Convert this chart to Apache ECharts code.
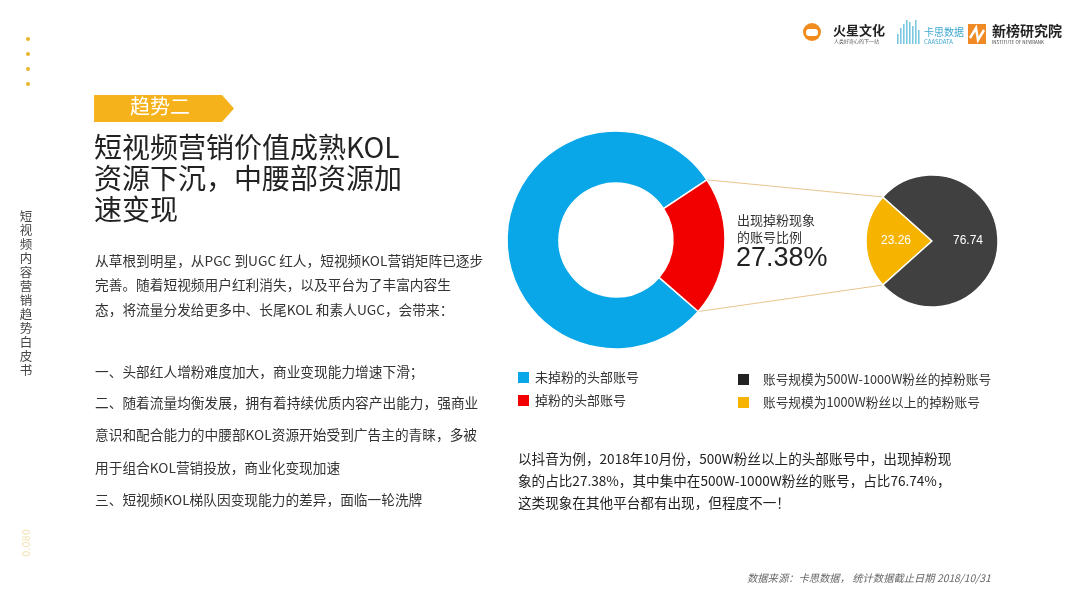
<!DOCTYPE html>
<html>
<head>
<meta charset="utf-8">
<script src="https://cdn.jsdelivr.net/npm/echarts@6/dist/echarts.min.js"></script>
<style>
  html, body { margin: 0; padding: 0; background: #fff; }
  #main { width: 1080px; height: 608px; }
</style>
</head>
<body>
<div id="main"></div>
<script>
// 大环形图：头部账号是否掉粉（按图上扇区的角度读出）
const donutNames = ['未掉粉的头部账号', '掉粉的头部账号'];
const donutValues = [79.3, 20.7];
const donutColors = ['#0aa7e8', '#f20000'];

// 小饼图：掉粉账号的规模分布
const pieNames = ['账号规模为1000W粉丝以上的掉粉账号', '账号规模为500W-1000W粉丝的掉粉账号'];
const pieValues = [23.26, 76.74];
const pieColors = ['#f6b400', '#404040'];
// 图例里的顺序与颜色
const legendRight = ['账号规模为500W-1000W粉丝的掉粉账号', '账号规模为1000W粉丝以上的掉粉账号'];
const legendRightColors = ['#222222', '#f6b400'];

const FONT = '"Noto Sans CJK SC", "Noto Sans", sans-serif';

// 几何参数
const donutC = [616, 240], donutR = [57, 109];
const pieC = [932, 241], pieR = 66;
// 红色扇区从 donutStart 开始顺时针
const redSweep = donutValues[1] / (donutValues[0] + donutValues[1]) * 360;
const donutStart = 33.5;
const yellowSweep = pieValues[0] / (pieValues[0] + pieValues[1]) * 360;
const pieStart = 180 + yellowSweep / 2;

function polar(c, r, deg) {
  const a = deg * Math.PI / 180;
  return [c[0] + r * Math.cos(a), c[1] - r * Math.sin(a)];
}

const chart = echarts.init(document.getElementById('main'));

const bodyLines = [
  ['从草根到明星，从PGC 到UGC 红人，短视频KOL营销矩阵已逐步', 261],
  ['完善。随着短视频用户红利消失，以及平台为了丰富内容生', 285],
  ['态，将流量分发给更多中、长尾KOL 和素人UGC，会带来：', 310],
  ['一、头部红人增粉难度加大，商业变现能力增速下滑；', 372],
  ['二、随着流量均衡发展，拥有着持续优质内容产出能力，强商业', 403],
  ['意识和配合能力的中腰部KOL资源开始受到广告主的青睐，多被', 435],
  ['用于组合KOL营销投放，商业化变现加速', 468],
  ['三、短视频KOL梯队因变现能力的差异，面临一轮洗牌', 500]
];
const noteLines = [
  ['以抖音为例，2018年10月份，500W粉丝以上的头部账号中，出现掉粉现', 459],
  ['象的占比27.38%，其中集中在500W-1000W粉丝的账号，占比76.74%，', 481],
  ['这类现象在其他平台都有出现，但程度不一！', 503]
];

const graphics = [];

// 左上角小圆点
[39, 54, 69, 84].forEach(y => {
  graphics.push({ type: 'circle', shape: { cx: 28, cy: y, r: 2 }, style: { fill: '#e9b52c' } });
});

// 标签 “趋势二”
graphics.push({
  type: 'polygon',
  shape: { points: [[94, 95], [222, 95], [234, 108.5], [222, 122], [94, 122]] },
  style: { fill: '#f5b21a' }
});
graphics.push({
  type: 'text', left: 130, top: 96,
  style: { text: '趋势二', fill: '#fff', font: '20px ' + FONT }
});

// 标题
['短视频营销价值成熟KOL', '资源下沉，中腰部资源加', '速变现'].forEach((t, i) => {
  graphics.push({
    type: 'text', x: 94, y: 147 + i * 31,
    style: { text: t, fill: '#222', font: '28px ' + FONT, textVerticalAlign: 'middle' }
  });
});

// 正文
bodyLines.forEach(([t, y]) => {
  graphics.push({
    type: 'text', x: 95, y: y,
    style: { text: t, fill: '#333', font: '13.7px ' + FONT, textVerticalAlign: 'middle' }
  });
});
noteLines.forEach(([t, y]) => {
  graphics.push({
    type: 'text', x: 518, y: y,
    style: { text: t, fill: '#222', font: '13.6px ' + FONT, textVerticalAlign: 'middle' }
  });
});

// 左侧竖排文字
'短视频内容营销趋势白皮书'.split('').forEach((ch, i) => {
  graphics.push({
    type: 'text', x: 26, y: 216 + i * 14,
    style: { text: ch, fill: '#444', font: '12.5px ' + FONT, textAlign: 'center', textVerticalAlign: 'middle' }
  });
});
// 页码
graphics.push({
  type: 'text', x: 26, y: 543, rotation: Math.PI / 2,
  style: { text: '0.080', fill: '#f0dfae', font: '11px ' + FONT, textAlign: 'center', textVerticalAlign: 'middle' }
});

// 环形图注释
graphics.push({ type: 'text', x: 737, y: 220, style: { text: '出现掉粉现象', fill: '#333', font: '13px ' + FONT, textVerticalAlign: 'middle' } });
graphics.push({ type: 'text', x: 737, y: 237, style: { text: '的账号比例', fill: '#333', font: '13px ' + FONT, textVerticalAlign: 'middle' } });
graphics.push({ type: 'text', x: 736, y: 259, style: { text: '27.38%', fill: '#222', font: '27px "Liberation Sans", Arial, sans-serif', textVerticalAlign: 'middle' } });

// 连接线：红色扇区两角 → 黄色扇区两角
const d1 = polar(donutC, donutR[1], donutStart);
const d2 = polar(donutC, donutR[1], donutStart - redSweep);
const p1 = polar(pieC, pieR, pieStart - yellowSweep);
const p2 = polar(pieC, pieR, pieStart);
[[d1, p1], [d2, p2]].forEach(([a, b]) => {
  graphics.push({
    type: 'line', z: -1,
    shape: { x1: a[0], y1: a[1], x2: b[0], y2: b[1] },
    style: { stroke: '#e8c68e', lineWidth: 1 }
  });
});

// 来源
graphics.push({
  type: 'text', x: 747, y: 578,
  style: { text: '数据来源：卡思数据， 统计数据截止日期 2018/10/31', fill: '#666', font: 'italic 10.3px ' + FONT, textVerticalAlign: 'middle' }
});

// 右上角 logo（简化）
graphics.push({ type: 'circle', shape: { cx: 812, cy: 32, r: 9 }, style: { fill: '#f08c1e' } });
graphics.push({ type: 'rect', shape: { x: 806, y: 29, width: 12, height: 7, r: 3 }, style: { fill: '#fff' } });
graphics.push({ type: 'text', x: 833, y: 30, style: { text: '火星文化', fill: '#222', font: 'bold 13px ' + FONT, textVerticalAlign: 'middle' } });
graphics.push({ type: 'text', x: 834, y: 41, style: { text: '人类好奇心的下一站', fill: '#555', font: '5px ' + FONT, textVerticalAlign: 'middle' } });
[0, 1, 2, 3, 4, 5, 6, 7].forEach(i => {
  const h = [10, 16, 20, 24, 22, 18, 24, 14][i];
  graphics.push({ type: 'rect', shape: { x: 897 + i * 3, y: 44 - h, width: 1.6, height: h }, style: { fill: '#7cc8e0' } });
});
graphics.push({ type: 'text', x: 924, y: 32, style: { text: '卡思数据', fill: '#3aa6d0', font: '10px ' + FONT, textVerticalAlign: 'middle' } });
graphics.push({ type: 'text', x: 924, y: 42, style: { text: 'CAASDATA', fill: '#3aa6d0', font: '6px ' + FONT, textVerticalAlign: 'middle' } });
graphics.push({ type: 'polygon', shape: { points: [[968, 24], [986, 24], [986, 44], [968, 44]] }, style: { fill: '#f08a24' } });
graphics.push({ type: 'polyline', shape: { points: [[970, 38], [976, 28], [978, 40], [984, 30]] }, style: { stroke: '#fff', lineWidth: 2.5 } });
graphics.push({ type: 'text', x: 992, y: 31, style: { text: '新榜研究院', fill: '#222', font: 'bold 14px ' + FONT, textVerticalAlign: 'middle' } });
graphics.push({ type: 'text', x: 992, y: 42, style: { text: 'INSTITUTE OF NEWRANK', fill: '#444', font: '4.5px ' + FONT, textVerticalAlign: 'middle' } });

const option = {
  backgroundColor: '#fff',
  animation: false,
  legend: [
    {
      orient: 'vertical', left: 516, top: 370, padding: 0,
      itemWidth: 13, itemHeight: 13, itemGap: 8,
      icon: 'rect', selectedMode: false,
      data: donutNames.map(n => ({ name: n })),
      textStyle: { fontSize: 13, color: '#333', fontFamily: FONT, lineHeight: 14 }
    },
    {
      orient: 'vertical', left: 736, top: 372, padding: 0,
      itemWidth: 13, itemHeight: 13, itemGap: 8,
      icon: 'rect', selectedMode: false,
      data: legendRight.map((n, i) => ({ name: n, itemStyle: { color: legendRightColors[i] } })),
      textStyle: { fontSize: 12.7, color: '#333', fontFamily: FONT, lineHeight: 14, padding: [0, 0, 0, 8] }
    }
  ],
  series: [
    {
      type: 'pie',
      center: donutC,
      radius: donutR,
      // 蓝色在前，所以从红色扇区的下角开始
      startAngle: donutStart - redSweep + 360,
      clockwise: true,
      silent: true,
      label: { show: false },
      labelLine: { show: false },
      itemStyle: { borderColor: '#fff', borderWidth: 1.5 },
      data: donutNames.map((n, i) => ({ name: n, value: donutValues[i], itemStyle: { color: donutColors[i] } }))
    },
    {
      type: 'pie',
      center: pieC,
      radius: [0, pieR],
      startAngle: pieStart,
      clockwise: true,
      silent: true,
      label: {
        show: true, position: 'inner', formatter: '{c}',
        color: '#fff', fontSize: 12, fontFamily: '"Liberation Sans", Arial, sans-serif'
      },
      labelLine: { show: false },
      itemStyle: { borderColor: '#fff', borderWidth: 1.5 },
      data: pieNames.map((n, i) => ({ name: n, value: pieValues[i], itemStyle: { color: pieColors[i] } }))
    }
  ],
  graphic: graphics
};

chart.setOption(option);
</script>
</body>
</html>
